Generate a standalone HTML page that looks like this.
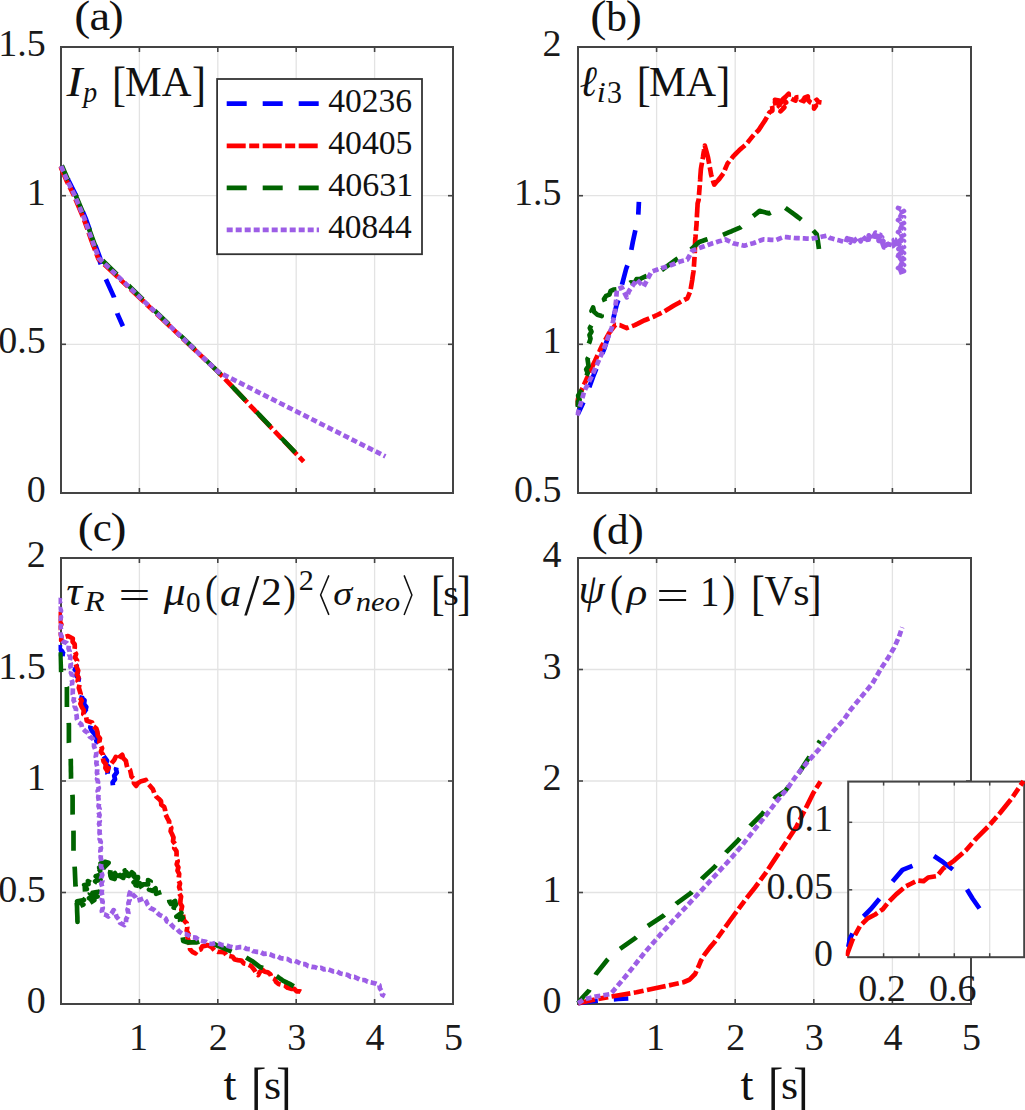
<!DOCTYPE html>
<html><head><meta charset="utf-8"><style>
html,body{margin:0;padding:0;background:#fff;}
svg{display:block;}
text{font-family:"Liberation Serif",serif;font-kerning:none;}
</style></head><body>
<svg width="1025" height="1110" viewBox="0 0 1025 1110">
<defs><clipPath id="clipa"><rect x="58.5" y="44.5" width="397" height="451"/></clipPath><clipPath id="clipb"><rect x="575.5" y="44.5" width="398" height="451"/></clipPath><clipPath id="clipc"><rect x="58.5" y="555.5" width="397" height="451"/></clipPath><clipPath id="clipd"><rect x="575.5" y="555.5" width="398" height="451"/></clipPath><clipPath id="clipi"><rect x="845.7" y="779.1" width="181.0" height="180.60000000000002"/></clipPath></defs>
<rect width="1025" height="1110" fill="#fff"/>
<line x1="139.4" y1="47" x2="139.4" y2="493" stroke="#e3e3e3" stroke-width="1.3"/>
<line x1="217.8" y1="47" x2="217.8" y2="493" stroke="#e3e3e3" stroke-width="1.3"/>
<line x1="296.2" y1="47" x2="296.2" y2="493" stroke="#e3e3e3" stroke-width="1.3"/>
<line x1="374.6" y1="47" x2="374.6" y2="493" stroke="#e3e3e3" stroke-width="1.3"/>
<line x1="61" y1="344.3" x2="453" y2="344.3" stroke="#e3e3e3" stroke-width="1.3"/>
<line x1="61" y1="195.7" x2="453" y2="195.7" stroke="#e3e3e3" stroke-width="1.3"/>
<line x1="656.6" y1="47" x2="656.6" y2="493" stroke="#e3e3e3" stroke-width="1.3"/>
<line x1="735.2" y1="47" x2="735.2" y2="493" stroke="#e3e3e3" stroke-width="1.3"/>
<line x1="813.8" y1="47" x2="813.8" y2="493" stroke="#e3e3e3" stroke-width="1.3"/>
<line x1="892.4" y1="47" x2="892.4" y2="493" stroke="#e3e3e3" stroke-width="1.3"/>
<line x1="578" y1="344.3" x2="971" y2="344.3" stroke="#e3e3e3" stroke-width="1.3"/>
<line x1="578" y1="195.7" x2="971" y2="195.7" stroke="#e3e3e3" stroke-width="1.3"/>
<line x1="139.4" y1="558" x2="139.4" y2="1004" stroke="#e3e3e3" stroke-width="1.3"/>
<line x1="217.8" y1="558" x2="217.8" y2="1004" stroke="#e3e3e3" stroke-width="1.3"/>
<line x1="296.2" y1="558" x2="296.2" y2="1004" stroke="#e3e3e3" stroke-width="1.3"/>
<line x1="374.6" y1="558" x2="374.6" y2="1004" stroke="#e3e3e3" stroke-width="1.3"/>
<line x1="61" y1="892.5" x2="453" y2="892.5" stroke="#e3e3e3" stroke-width="1.3"/>
<line x1="61" y1="781.0" x2="453" y2="781.0" stroke="#e3e3e3" stroke-width="1.3"/>
<line x1="61" y1="669.5" x2="453" y2="669.5" stroke="#e3e3e3" stroke-width="1.3"/>
<line x1="656.6" y1="558" x2="656.6" y2="1004" stroke="#e3e3e3" stroke-width="1.3"/>
<line x1="735.2" y1="558" x2="735.2" y2="1004" stroke="#e3e3e3" stroke-width="1.3"/>
<line x1="813.8" y1="558" x2="813.8" y2="1004" stroke="#e3e3e3" stroke-width="1.3"/>
<line x1="892.4" y1="558" x2="892.4" y2="1004" stroke="#e3e3e3" stroke-width="1.3"/>
<line x1="578" y1="892.5" x2="971" y2="892.5" stroke="#e3e3e3" stroke-width="1.3"/>
<line x1="578" y1="781.0" x2="971" y2="781.0" stroke="#e3e3e3" stroke-width="1.3"/>
<line x1="578" y1="669.5" x2="971" y2="669.5" stroke="#e3e3e3" stroke-width="1.3"/>
<line x1="61.0" y1="493" x2="61.0" y2="488" stroke="#444444" stroke-width="1.6"/>
<line x1="61.0" y1="47" x2="61.0" y2="52" stroke="#444444" stroke-width="1.6"/>
<line x1="139.4" y1="493" x2="139.4" y2="488" stroke="#444444" stroke-width="1.6"/>
<line x1="139.4" y1="47" x2="139.4" y2="52" stroke="#444444" stroke-width="1.6"/>
<line x1="217.8" y1="493" x2="217.8" y2="488" stroke="#444444" stroke-width="1.6"/>
<line x1="217.8" y1="47" x2="217.8" y2="52" stroke="#444444" stroke-width="1.6"/>
<line x1="296.2" y1="493" x2="296.2" y2="488" stroke="#444444" stroke-width="1.6"/>
<line x1="296.2" y1="47" x2="296.2" y2="52" stroke="#444444" stroke-width="1.6"/>
<line x1="374.6" y1="493" x2="374.6" y2="488" stroke="#444444" stroke-width="1.6"/>
<line x1="374.6" y1="47" x2="374.6" y2="52" stroke="#444444" stroke-width="1.6"/>
<line x1="453.0" y1="493" x2="453.0" y2="488" stroke="#444444" stroke-width="1.6"/>
<line x1="453.0" y1="47" x2="453.0" y2="52" stroke="#444444" stroke-width="1.6"/>
<line x1="61" y1="493.0" x2="66" y2="493.0" stroke="#444444" stroke-width="1.6"/>
<line x1="453" y1="493.0" x2="448" y2="493.0" stroke="#444444" stroke-width="1.6"/>
<line x1="61" y1="344.3" x2="66" y2="344.3" stroke="#444444" stroke-width="1.6"/>
<line x1="453" y1="344.3" x2="448" y2="344.3" stroke="#444444" stroke-width="1.6"/>
<line x1="61" y1="195.7" x2="66" y2="195.7" stroke="#444444" stroke-width="1.6"/>
<line x1="453" y1="195.7" x2="448" y2="195.7" stroke="#444444" stroke-width="1.6"/>
<line x1="61" y1="47.0" x2="66" y2="47.0" stroke="#444444" stroke-width="1.6"/>
<line x1="453" y1="47.0" x2="448" y2="47.0" stroke="#444444" stroke-width="1.6"/>
<rect x="61" y="47" width="392" height="446" fill="none" stroke="#444444" stroke-width="2"/>
<line x1="578.0" y1="493" x2="578.0" y2="488" stroke="#444444" stroke-width="1.6"/>
<line x1="578.0" y1="47" x2="578.0" y2="52" stroke="#444444" stroke-width="1.6"/>
<line x1="656.6" y1="493" x2="656.6" y2="488" stroke="#444444" stroke-width="1.6"/>
<line x1="656.6" y1="47" x2="656.6" y2="52" stroke="#444444" stroke-width="1.6"/>
<line x1="735.2" y1="493" x2="735.2" y2="488" stroke="#444444" stroke-width="1.6"/>
<line x1="735.2" y1="47" x2="735.2" y2="52" stroke="#444444" stroke-width="1.6"/>
<line x1="813.8" y1="493" x2="813.8" y2="488" stroke="#444444" stroke-width="1.6"/>
<line x1="813.8" y1="47" x2="813.8" y2="52" stroke="#444444" stroke-width="1.6"/>
<line x1="892.4" y1="493" x2="892.4" y2="488" stroke="#444444" stroke-width="1.6"/>
<line x1="892.4" y1="47" x2="892.4" y2="52" stroke="#444444" stroke-width="1.6"/>
<line x1="971.0" y1="493" x2="971.0" y2="488" stroke="#444444" stroke-width="1.6"/>
<line x1="971.0" y1="47" x2="971.0" y2="52" stroke="#444444" stroke-width="1.6"/>
<line x1="578" y1="493.0" x2="583" y2="493.0" stroke="#444444" stroke-width="1.6"/>
<line x1="971" y1="493.0" x2="966" y2="493.0" stroke="#444444" stroke-width="1.6"/>
<line x1="578" y1="344.3" x2="583" y2="344.3" stroke="#444444" stroke-width="1.6"/>
<line x1="971" y1="344.3" x2="966" y2="344.3" stroke="#444444" stroke-width="1.6"/>
<line x1="578" y1="195.7" x2="583" y2="195.7" stroke="#444444" stroke-width="1.6"/>
<line x1="971" y1="195.7" x2="966" y2="195.7" stroke="#444444" stroke-width="1.6"/>
<line x1="578" y1="47.0" x2="583" y2="47.0" stroke="#444444" stroke-width="1.6"/>
<line x1="971" y1="47.0" x2="966" y2="47.0" stroke="#444444" stroke-width="1.6"/>
<rect x="578" y="47" width="393" height="446" fill="none" stroke="#444444" stroke-width="2"/>
<line x1="61.0" y1="1004" x2="61.0" y2="999" stroke="#444444" stroke-width="1.6"/>
<line x1="61.0" y1="558" x2="61.0" y2="563" stroke="#444444" stroke-width="1.6"/>
<line x1="139.4" y1="1004" x2="139.4" y2="999" stroke="#444444" stroke-width="1.6"/>
<line x1="139.4" y1="558" x2="139.4" y2="563" stroke="#444444" stroke-width="1.6"/>
<line x1="217.8" y1="1004" x2="217.8" y2="999" stroke="#444444" stroke-width="1.6"/>
<line x1="217.8" y1="558" x2="217.8" y2="563" stroke="#444444" stroke-width="1.6"/>
<line x1="296.2" y1="1004" x2="296.2" y2="999" stroke="#444444" stroke-width="1.6"/>
<line x1="296.2" y1="558" x2="296.2" y2="563" stroke="#444444" stroke-width="1.6"/>
<line x1="374.6" y1="1004" x2="374.6" y2="999" stroke="#444444" stroke-width="1.6"/>
<line x1="374.6" y1="558" x2="374.6" y2="563" stroke="#444444" stroke-width="1.6"/>
<line x1="453.0" y1="1004" x2="453.0" y2="999" stroke="#444444" stroke-width="1.6"/>
<line x1="453.0" y1="558" x2="453.0" y2="563" stroke="#444444" stroke-width="1.6"/>
<line x1="61" y1="1004.0" x2="66" y2="1004.0" stroke="#444444" stroke-width="1.6"/>
<line x1="453" y1="1004.0" x2="448" y2="1004.0" stroke="#444444" stroke-width="1.6"/>
<line x1="61" y1="892.5" x2="66" y2="892.5" stroke="#444444" stroke-width="1.6"/>
<line x1="453" y1="892.5" x2="448" y2="892.5" stroke="#444444" stroke-width="1.6"/>
<line x1="61" y1="781.0" x2="66" y2="781.0" stroke="#444444" stroke-width="1.6"/>
<line x1="453" y1="781.0" x2="448" y2="781.0" stroke="#444444" stroke-width="1.6"/>
<line x1="61" y1="669.5" x2="66" y2="669.5" stroke="#444444" stroke-width="1.6"/>
<line x1="453" y1="669.5" x2="448" y2="669.5" stroke="#444444" stroke-width="1.6"/>
<line x1="61" y1="558.0" x2="66" y2="558.0" stroke="#444444" stroke-width="1.6"/>
<line x1="453" y1="558.0" x2="448" y2="558.0" stroke="#444444" stroke-width="1.6"/>
<rect x="61" y="558" width="392" height="446" fill="none" stroke="#444444" stroke-width="2"/>
<line x1="578.0" y1="1004" x2="578.0" y2="999" stroke="#444444" stroke-width="1.6"/>
<line x1="578.0" y1="558" x2="578.0" y2="563" stroke="#444444" stroke-width="1.6"/>
<line x1="656.6" y1="1004" x2="656.6" y2="999" stroke="#444444" stroke-width="1.6"/>
<line x1="656.6" y1="558" x2="656.6" y2="563" stroke="#444444" stroke-width="1.6"/>
<line x1="735.2" y1="1004" x2="735.2" y2="999" stroke="#444444" stroke-width="1.6"/>
<line x1="735.2" y1="558" x2="735.2" y2="563" stroke="#444444" stroke-width="1.6"/>
<line x1="813.8" y1="1004" x2="813.8" y2="999" stroke="#444444" stroke-width="1.6"/>
<line x1="813.8" y1="558" x2="813.8" y2="563" stroke="#444444" stroke-width="1.6"/>
<line x1="892.4" y1="1004" x2="892.4" y2="999" stroke="#444444" stroke-width="1.6"/>
<line x1="892.4" y1="558" x2="892.4" y2="563" stroke="#444444" stroke-width="1.6"/>
<line x1="971.0" y1="1004" x2="971.0" y2="999" stroke="#444444" stroke-width="1.6"/>
<line x1="971.0" y1="558" x2="971.0" y2="563" stroke="#444444" stroke-width="1.6"/>
<line x1="578" y1="1004.0" x2="583" y2="1004.0" stroke="#444444" stroke-width="1.6"/>
<line x1="971" y1="1004.0" x2="966" y2="1004.0" stroke="#444444" stroke-width="1.6"/>
<line x1="578" y1="892.5" x2="583" y2="892.5" stroke="#444444" stroke-width="1.6"/>
<line x1="971" y1="892.5" x2="966" y2="892.5" stroke="#444444" stroke-width="1.6"/>
<line x1="578" y1="781.0" x2="583" y2="781.0" stroke="#444444" stroke-width="1.6"/>
<line x1="971" y1="781.0" x2="966" y2="781.0" stroke="#444444" stroke-width="1.6"/>
<line x1="578" y1="669.5" x2="583" y2="669.5" stroke="#444444" stroke-width="1.6"/>
<line x1="971" y1="669.5" x2="966" y2="669.5" stroke="#444444" stroke-width="1.6"/>
<line x1="578" y1="558.0" x2="583" y2="558.0" stroke="#444444" stroke-width="1.6"/>
<line x1="971" y1="558.0" x2="966" y2="558.0" stroke="#444444" stroke-width="1.6"/>
<rect x="578" y="558" width="393" height="446" fill="none" stroke="#444444" stroke-width="2"/>
<polyline points="62.3,166.0 68.3,180.0 75.8,195.0 85.6,218.3 93.3,240.0 100.2,258.3 99.4,260.0 105.9,279.3 114.0,297.1 117.2,313.4 122.9,326.3" fill="none" stroke="#0000ff" stroke-width="4.7" stroke-dasharray="20 16" stroke-linejoin="round" stroke-dashoffset="21.89" clip-path="url(#clipa)"/>
<polyline points="60.4,166.4 66.4,180.4 73.9,195.4 83.7,218.7 91.4,240.4 98.3,258.7 218.2,371.9 303.7,461.7" fill="none" stroke="#ff0000" stroke-width="4.7" stroke-dasharray="19 3.5 10 3.5" stroke-linejoin="round" clip-path="url(#clipa)"/>
<polyline points="61.8,165.4 67.8,179.4 75.3,194.4 85.1,217.7 92.8,239.4 99.7,257.7 218.2,371.9 299.5,457.0" fill="none" stroke="#006400" stroke-width="4.7" stroke-dasharray="20 16" stroke-linejoin="round" stroke-dashoffset="4.15" clip-path="url(#clipa)"/>
<polyline points="61.0,166.0 67.0,180.0 74.5,195.0 84.3,218.3 92.0,240.0 98.9,258.3 218.2,371.9 385.4,456.4" fill="none" stroke="#9d5ee6" stroke-width="4.7" stroke-dasharray="6 3" stroke-linejoin="round" clip-path="url(#clipa)"/>
<polyline points="577.9,414.0 585.9,396.8 593.1,376.6 604.6,347.8 611.8,324.8 616.6,304.9 620.0,295.4 622.0,284.6 626.1,269.0 629.5,259.6 632.8,242.0 635.3,230.5 638.2,216.4 638.9,201.9" fill="none" stroke="#0000ff" stroke-width="4.7" stroke-dasharray="20 16" stroke-linejoin="round" stroke-dashoffset="6.93" clip-path="url(#clipb)"/>
<polyline points="575.0,405.4 576.0,403.0 577.1,400.6 578.1,398.2 579.2,395.8 580.2,393.4 581.3,391.0 582.3,388.6 583.4,386.2 584.4,383.8 585.6,381.2 586.8,378.5 588.0,375.9 589.2,373.3 590.4,370.6 591.6,368.0 592.7,365.6 593.8,363.2 595.0,360.8 596.1,358.4 597.2,356.0 598.3,353.6 599.5,351.2 600.6,348.8 601.7,346.4 603.1,343.8 604.6,341.2 606.0,338.6 607.5,336.0 608.9,333.4 610.5,331.2 612.1,329.1 613.8,326.9 615.4,324.8 619.9,325.1 622.2,326.1 624.5,327.1 626.8,328.1 629.5,327.1 632.1,326.1 634.8,325.1 637.3,323.9 639.8,322.6 642.2,321.4 644.7,320.2 647.2,319.2 649.7,318.2 652.1,317.2 654.6,316.2 657.1,315.0 659.5,313.8 662.0,312.5 664.5,311.3 667.0,309.8 669.5,308.3 671.9,306.8 674.4,305.3 676.7,304.0 679.1,302.7 681.4,301.4 684.3,299.9 687.3,298.4 688.3,296.1 689.3,293.7 690.3,291.4 690.8,288.4 691.3,285.5 691.8,282.6 692.3,279.6 692.6,277.1 693.0,274.6 693.4,272.1 693.7,269.6 693.9,266.6 694.1,263.7 694.3,260.7 694.5,257.8 694.7,254.8 694.8,251.8 694.9,248.8 695.0,245.9 695.1,242.9 695.2,239.9 695.5,236.9 695.7,233.9 696.0,231.0 696.2,228.0 696.5,225.0 696.6,222.3 696.8,219.6 696.9,216.9 697.0,214.2 697.2,211.5 697.3,208.8 697.5,206.1 697.6,203.4 698.6,200.0 698.8,197.4 699.0,194.9 699.2,192.3 699.4,189.7 699.6,187.2 699.8,184.6 700.0,182.0 700.2,179.4 700.3,176.8 700.5,174.2 700.7,171.6 700.9,169.0 701.4,165.9 702.0,162.8 702.5,159.7 703.0,156.9 703.4,154.1 703.9,151.2 704.3,148.4 704.8,145.6 705.6,148.5 706.4,151.4 707.2,154.4 708.0,157.3 708.5,160.2 709.0,163.0 709.5,165.9 710.1,168.8 710.6,171.6 711.1,174.5 711.9,177.0 712.7,179.6 713.4,182.1 714.2,184.6 716.0,182.5 717.9,180.5 719.7,178.4 721.7,175.7 723.6,172.9 724.6,170.6 725.5,168.2 726.5,165.9 727.5,163.6 729.6,161.0 731.6,158.4 733.7,155.8 735.5,154.0 737.4,152.1 739.2,150.3 741.5,148.2 743.9,146.2 746.2,144.1 748.2,141.8 750.1,139.4 752.0,137.0 754.0,134.7 756.4,132.3 758.7,130.0 760.4,127.4 762.1,124.8 763.8,122.2 765.5,119.6 766.9,117.1 768.2,114.7 769.6,112.2 772.4,110.6 772.3,107.3 771.3,104.1 776.0,103.0 775.0,99.8 779.1,100.5 780.7,103.1 778.8,106.1 781.7,108.5 780.5,111.4 782.5,109.4 784.4,107.3 781.5,104.0 786.2,102.5 782.9,99.1 785.3,97.1 788.7,93.7 788.8,97.4 792.1,99.1 795.5,100.5 796.3,97.3 799.6,97.1 800.8,100.0 803.7,101.2 804.5,97.7 807.8,96.4 808.0,100.0 810.5,102.5 814.3,104.4 814.0,108.7 815.9,106.0 813.7,102.1 816.7,99.8 818.6,102.1 821.5,102.5" fill="none" stroke="#ff0000" stroke-width="4.7" stroke-dasharray="19 3.5 10 3.5" stroke-linejoin="round" clip-path="url(#clipb)"/>
<polyline points="576.0,410.0 577.6,406.7 576.5,402.7 579.6,399.8 578.0,395.7 580.1,392.5 582.0,389.6 581.7,385.9 584.3,383.2 584.0,379.5 585.9,376.6 587.7,373.2 586.2,369.3 588.5,366.0 588.0,362.2 587.5,358.8 589.4,355.5 587.8,352.0 590.4,348.8 588.1,345.3 589.5,342.0 590.5,338.6 589.5,335.0 591.5,331.8 589.8,328.1 591.6,324.8 593.2,321.5 590.9,317.8 593.8,314.5 591.5,310.9 593.1,307.5 594.0,311.8 597.4,314.7 601.7,316.1 601.1,312.5 603.9,309.5 602.5,305.7 605.6,302.8 604.0,299.0 606.0,295.9 609.4,294.6 610.7,290.9 614.0,289.5 617.8,289.1 620.6,286.1 624.7,286.6 627.8,284.5 630.6,282.4 634.6,282.9 636.6,279.1 640.3,278.8 643.4,277.4 646.5,276.0 649.6,274.6 652.9,273.6 656.3,272.6 659.6,271.6 662.1,269.8 664.7,267.9 667.2,266.1 669.8,264.2 672.3,262.4 674.9,260.5 677.4,258.7 680.4,257.1 683.3,255.4 686.3,253.8 688.9,251.4 691.5,249.0 694.0,246.7 696.6,244.3 699.2,241.9 702.8,240.8 706.4,239.6 710.0,238.5 713.2,237.6 716.4,236.8 719.6,235.9 722.8,235.0 725.8,233.7 728.7,232.4 731.7,231.2 734.7,229.9 737.6,228.6 740.6,227.3 743.0,225.2 745.4,223.0 747.8,220.9 750.2,218.7 752.6,216.6 754.9,214.7 757.3,212.8 759.6,210.9 762.8,211.7 765.9,212.6 769.1,213.4 772.5,211.7 776.0,210.0 780.1,208.5 784.3,207.0 786.7,208.8 789.2,210.6 791.6,212.4 794.0,214.2 796.5,216.0 798.9,217.8 801.8,220.2 804.6,222.6 807.4,224.9 810.3,227.3 812.4,229.6 814.6,232.0 816.7,234.3 817.4,238.2 818.0,242.0 818.6,246.4 819.2,250.8 820.0,253.8 820.9,256.7 821.7,259.7" fill="none" stroke="#006400" stroke-width="4.7" stroke-dasharray="20 16" stroke-linejoin="round" stroke-dashoffset="32.58" clip-path="url(#clipb)"/>
<polyline points="577.2,415.5 577.9,413.3 578.5,411.0 579.2,408.8 579.8,406.6 580.5,404.4 581.1,402.1 581.8,399.9 582.4,397.7 583.1,395.5 583.7,393.2 584.4,391.0 585.4,388.9 586.5,386.9 587.5,384.8 588.5,382.8 589.5,380.7 590.6,378.7 591.6,376.6 592.6,374.4 593.5,372.3 594.5,370.1 595.4,368.0 596.4,365.8 597.4,363.6 598.3,361.5 599.3,359.3 600.2,357.2 601.2,355.0 602.1,352.9 603.1,350.7 603.9,348.6 604.7,346.5 605.5,344.4 606.3,342.3 607.1,340.2 607.8,338.1 608.6,336.0 609.4,333.9 610.2,331.8 611.0,329.7 611.8,327.6 612.3,325.2 612.8,322.8 613.2,320.4 613.7,318.0 614.2,315.6 614.7,313.2 615.0,310.8 615.2,308.5 615.5,306.1 615.7,303.8 616.0,301.4 616.2,299.0 616.4,296.6 616.5,294.3 616.7,291.9 616.9,289.5 619.4,288.5 621.9,287.5 622.9,289.5 623.9,291.5 624.8,293.4 625.8,295.4 626.8,297.4 627.8,294.4 628.8,291.4 630.1,289.4 631.5,287.5 632.8,285.5 634.1,283.5 635.5,281.6 636.8,279.6 638.5,281.3 640.2,283.1 642.0,284.8 643.7,286.5 644.8,284.4 646.0,282.2 647.1,280.1 648.2,278.0 649.3,275.9 650.5,273.7 651.6,271.6 654.3,270.6 656.9,269.7 659.6,268.7 662.1,267.9 664.5,267.2 667.0,266.4 669.5,265.7 672.0,264.7 674.5,263.7 676.9,262.7 679.4,261.7 682.0,261.0 684.7,260.4 687.3,259.7 688.5,257.5 689.8,255.2 691.0,253.0 692.3,250.8 694.9,249.8 697.4,248.8 700.0,247.8 702.1,247.0 704.2,246.3 706.4,245.5 708.5,244.7 710.6,244.0 712.7,243.2 714.8,242.6 716.9,241.9 719.0,241.3 721.2,240.7 723.3,240.0 725.4,239.4 727.9,240.7 730.5,241.9 733.0,243.2 735.3,243.7 737.6,244.2 739.8,244.7 742.1,245.2 744.4,245.7 746.6,245.1 748.8,244.4 751.1,243.8 753.3,243.2 755.8,242.2 758.3,241.3 760.9,240.3 763.4,239.4 765.9,239.5 768.5,239.6 771.0,239.8 773.6,239.9 776.1,240.0 778.6,239.0 781.2,237.9 783.7,236.9 786.2,237.1 788.8,237.4 791.3,237.6 793.9,237.9 796.4,238.1 798.9,238.2 801.5,238.3 804.0,238.4 806.5,238.6 809.1,238.7 811.6,238.8 813.8,238.3 815.9,237.9 818.1,237.4 820.3,237.0 822.5,236.5 824.6,236.1 826.8,235.6 830.0,238.0 832.2,238.6 834.4,239.2 836.6,239.8 838.8,240.3 841.0,240.9 843.2,241.5 845.7,242.4 847.1,238.2 850.2,242.5 851.4,236.9 854.4,241.0 856.3,238.9 858.5,237.2 860.7,241.4 862.9,236.5 865.1,238.9 867.8,239.9 868.8,235.3 872.2,238.8 873.9,236.3 875.4,232.6 879.2,233.6 878.6,236.2 882.1,237.3 878.6,240.8 883.8,241.5 882.7,244.2 883.9,247.3 887.1,247.7 887.9,244.1 891.5,245.0 895.0,244.5 893.8,240.0 896.7,238.9 898.0,241.0 902.5,246.0 898.5,249.0 902.5,252.0 898.5,255.0 902.5,258.0 898.5,261.0 902.5,264.0 898.5,267.0 902.5,270.0 898.5,273.0 904.0,271.0 898.0,268.0 904.0,265.0 898.0,262.0 904.0,259.0 898.0,256.0 904.0,253.0 898.0,250.0 904.0,247.0 898.0,244.0 904.0,241.0 898.0,238.0 904.0,235.0 898.0,232.0 904.0,229.0 898.0,226.0 904.0,223.0 898.0,220.0 904.0,217.0 898.0,214.0 904.0,211.0 898.0,208.0 901.0,209.0" fill="none" stroke="#9d5ee6" stroke-width="4.7" stroke-dasharray="6 3" stroke-linejoin="round" clip-path="url(#clipb)"/>
<polyline points="866.0,240.0 868.7,239.7 869.2,236.2 872.0,236.0 875.2,236.8 877.0,234.0 880.4,234.7 878.5,238.8 881.0,240.0 883.5,241.2 882.3,244.9 885.0,246.0 888.0,244.0 890.0,247.0 893.0,246.0 894.0,243.0 893.7,239.7 897.0,240.0" fill="none" stroke="#9d5ee6" stroke-width="4.7" stroke-dasharray="6 3" stroke-linejoin="round" clip-path="url(#clipb)"/>
<polyline points="60.0,645.0 59.6,648.4 61.9,651.5 61.0,655.0 62.0,651.0 63.5,654.0 67.3,654.5 68.9,657.4 71.3,660.9 74.8,663.3 76.8,666.1 74.8,669.7 77.8,672.3 76.4,675.8 78.9,678.5 78.2,681.9 80.4,684.6 79.0,688.2 80.8,691.0 82.4,694.0 81.5,697.8 84.5,700.4 84.0,704.1 86.3,706.9 85.3,710.8 88.9,713.2 88.7,716.8 88.1,720.6 91.3,723.5 90.3,727.4 91.7,730.7 94.6,733.9 96.0,738.0 96.5,741.3 99.5,743.4 99.1,747.2 101.8,749.4 103.7,751.9 103.2,755.4 105.0,758.0 107.0,760.7 105.8,764.2 108.6,766.7 108.0,770.0 107.5,773.4 110.1,776.3 108.6,779.9 110.0,783.0 113.0,786.0 112.6,782.4 115.0,779.3 114.2,775.7 116.8,772.6 116.0,769.0 117.0,765.9 120.4,764.4 121.0,761.0" fill="none" stroke="#0000ff" stroke-width="4.7" stroke-dasharray="20 16" stroke-linejoin="round" clip-path="url(#clipc)"/>
<polyline points="60.0,612.0 59.1,615.1 60.7,618.2 59.9,621.3 61.4,624.4 60.0,627.6 61.1,630.6 60.0,633.8 61.5,636.9 61.0,640.0 62.9,637.5 68.0,636.0 72.8,638.5 72.6,641.7 74.7,644.3 74.8,647.4 74.2,650.8 76.1,654.0 75.0,657.4 77.1,660.6 75.7,664.1 76.8,667.3 78.2,670.6 76.8,674.2 78.5,677.4 77.6,681.0 79.7,684.1 78.8,687.7 79.8,691.0 80.7,694.1 79.7,697.5 81.7,700.5 80.4,703.9 81.8,707.0 83.8,710.2 83.3,714.2 86.2,717.1 86.7,720.8 92.1,722.5 93.2,726.1 96.4,728.6 97.5,732.2 97.8,735.6 100.0,738.4 99.3,742.0 100.7,745.1 102.1,748.2 100.8,751.7 103.1,754.6 102.9,758.0 103.5,761.4 105.9,764.1 105.4,767.9 107.2,770.8 108.9,766.8 111.5,763.3 114.0,760.3 115.8,756.9 117.9,760.1 119.5,757.0 122.2,754.7 123.2,758.1 125.9,760.8 126.5,764.4 127.3,767.6 130.0,769.8 130.8,773.0 131.5,776.5 134.2,779.1 133.9,783.0 136.1,785.9 137.8,783.3 140.4,781.6 145.8,780.0 147.4,783.3 150.1,785.9 152.9,789.3 154.4,793.4 156.1,796.4 158.7,798.7 161.0,801.2 161.3,804.7 164.1,806.8 165.1,810.0 165.6,814.5 167.6,818.6 169.2,821.5 169.0,825.0 171.3,827.7 170.6,831.3 172.1,834.3 173.5,837.5 173.0,841.2 175.3,844.2 174.2,848.0 176.5,851.1 176.6,854.6 176.3,857.9 177.7,861.0 176.7,864.3 178.4,867.4 177.5,870.7 179.2,873.8 178.9,877.1 178.5,880.4 180.0,883.6 179.1,887.0 180.2,890.2 179.3,893.5 181.1,896.7 180.5,900.0 180.3,903.4 182.1,906.5 181.3,910.0 183.1,913.0 183.2,916.4 184.0,920.3 186.8,923.4 187.3,927.3 186.7,930.8 188.7,934.1 187.4,937.7 188.7,941.0 190.0,945.0 190.0,949.2 192.3,951.8 195.5,953.3 197.2,950.5 200.7,949.4 202.3,946.4 207.8,945.1 211.7,947.1 214.6,950.5 217.9,951.9 221.4,951.9 224.5,952.5 226.5,955.3 229.6,956.0 232.6,956.8 234.7,959.5 237.8,960.1 241.4,960.6 243.9,963.5 247.4,964.2 251.4,966.2 254.2,969.7 255.9,972.6 258.3,975.1 259.8,972.0 262.4,969.7 264.8,971.8 267.9,972.4 270.4,974.4 271.6,977.5 274.7,979.1 276.1,982.0 278.5,983.9 281.5,984.7 284.9,985.6 287.7,987.8 291.1,988.8 294.3,988.9 296.7,991.4 300.0,991.4 302.7,992.9" fill="none" stroke="#ff0000" stroke-width="4.7" stroke-dasharray="19 3.5 10 3.5" stroke-linejoin="round" clip-path="url(#clipc)"/>
<polyline points="60.0,645.4 60.1,647.7 60.2,650.0 60.2,652.3 60.3,654.6 60.4,656.9 60.5,659.2 60.6,661.5 60.7,663.8 60.8,666.1 60.8,668.4 60.9,670.7 61.0,673.0 62.0,675.3 63.0,677.7 64.0,680.0 64.9,682.3 65.9,684.7 66.9,687.0 66.9,689.2 66.9,691.4 66.9,693.7 66.9,695.9 66.9,698.1 66.9,700.3 66.9,702.6 66.9,704.8 66.9,707.0 67.2,709.2 67.4,711.5 67.7,713.7 67.9,715.9 68.2,718.1 68.4,720.3 68.7,722.6 68.9,724.8 68.9,727.0 68.9,729.2 68.9,731.5 68.9,733.7 68.9,735.9 68.9,738.1 68.9,740.4 68.9,742.6 69.2,745.1 69.4,747.6 69.7,750.1 70.0,752.5 70.3,755.0 70.5,757.5 70.8,760.0 70.8,762.2 70.8,764.5 70.9,766.8 70.9,769.0 70.9,771.2 71.0,773.5 71.0,775.8 71.0,778.0 71.2,780.4 71.4,782.8 71.6,785.1 71.8,787.5 72.0,789.9 72.2,792.2 72.4,794.6 72.6,797.0 72.6,799.4 72.6,801.9 72.6,804.3 72.6,806.7 72.6,809.1 72.6,811.6 72.6,814.0 72.7,816.2 72.8,818.5 72.9,820.8 73.0,823.0 73.2,825.2 73.3,827.5 73.4,829.8 73.5,832.0 73.5,834.4 73.5,836.8 73.5,839.1 73.5,841.5 73.5,843.9 73.5,846.2 73.5,848.6 73.5,851.0 73.7,853.2 73.8,855.5 74.0,857.8 74.2,860.0 74.3,862.2 74.5,864.5 74.6,866.8 74.8,869.0 74.9,871.4 75.0,873.9 75.1,876.3 75.2,878.7 75.3,881.1 75.4,883.6 75.5,886.0 75.7,888.2 75.8,890.4 76.0,892.7 76.2,894.9 76.3,897.1 76.5,899.3 76.7,901.6 76.8,903.8 77.0,906.0 77.1,908.3 77.1,910.6 77.2,912.9 77.3,915.1 77.4,917.4 77.4,919.7 77.5,922.0 77.8,919.8 78.2,917.5 78.5,915.2 78.8,913.0 79.1,910.8 79.5,908.5 79.8,906.2 83.4,904.5 77.1,901.3 84.0,900.0 79.5,897.0 81.4,895.0 84.9,893.8 81.5,889.4 86.9,889.1 84.2,885.0 88.5,884.2 87.9,881.1 90.9,882.8 87.7,886.5 92.5,887.6 91.1,890.8 89.9,893.3 93.2,895.4 89.0,898.2 94.4,900.0 90.0,902.9 92.7,905.0 90.3,902.1 95.8,900.8 92.6,897.8 97.6,896.4 92.5,892.9 98.3,891.7 93.4,888.3 96.5,886.5 100.3,884.5 95.1,881.2 100.5,879.4 95.7,876.2 100.8,874.4 98.6,871.5 97.6,868.0 102.9,868.8 101.1,864.8 105.7,865.1 105.0,861.8 108.6,862.8 104.4,867.1 109.9,867.3 106.1,871.5 111.1,871.9 110.4,874.7 111.3,878.1 114.7,879.0 113.9,875.7 119.7,875.4 116.3,871.0 119.0,869.3 118.6,872.2 122.6,872.9 120.9,876.4 123.3,877.9 123.0,874.9 128.1,875.7 124.8,870.4 128.7,870.4 128.8,873.5 133.4,872.1 132.1,876.6 135.1,876.8 137.8,878.5 133.6,882.4 139.7,883.1 136.1,886.7 140.2,888.0 139.4,890.8 143.4,890.3 139.9,884.9 143.7,884.3 148.1,884.4 148.0,880.0 150.6,881.5 147.4,885.3 153.7,885.2 149.0,889.6 152.3,890.8 155.5,888.3 156.0,893.9 158.7,892.9 162.8,891.5 162.1,897.0 165.1,897.2 168.9,897.7 169.4,901.5 170.9,903.9 175.1,900.9 175.9,904.7 173.7,907.7 180.4,908.4 174.7,912.3 181.5,912.9 176.4,916.7 182.8,917.4 180.0,920.6 180.6,922.8 181.2,925.1 181.5,927.4 181.8,929.6 182.1,931.9 182.3,934.2 182.6,936.5 182.9,938.7 183.2,941.0 187.3,942.3 189.7,942.3 192.1,942.3 194.5,942.3 196.9,942.3 199.3,941.4 201.7,940.6 204.0,939.8 206.4,938.9 208.3,940.1 210.2,941.4 212.2,942.6 214.1,943.9 216.0,945.1 218.3,946.0 220.5,946.9 222.8,947.8 225.2,948.8 227.6,949.8 230.0,950.9 232.4,951.9 235.1,952.2 237.8,952.6 240.0,953.9 242.1,955.1 244.3,956.4 246.4,957.7 248.6,959.0 250.7,960.2 252.9,961.5 255.2,963.3 257.4,965.1 259.7,966.9 262.4,967.8 265.2,968.8 267.9,969.7 269.8,971.1 271.6,972.4 273.5,973.8 275.4,975.2 277.3,976.5 279.1,977.9 281.0,979.2 282.9,980.6 284.9,981.6 287.0,982.7 289.1,983.7 291.1,984.7 293.4,986.1 295.6,987.4 297.9,988.8" fill="none" stroke="#006400" stroke-width="4.7" stroke-dasharray="20 16" stroke-linejoin="round" stroke-dashoffset="29.19" clip-path="url(#clipc)"/>
<polyline points="98.0,872.0 100.3,870.9 99.1,867.5 103.1,867.6 100.5,863.2 104.0,863.0 103.4,866.1 108.5,865.7 106.4,869.7 110.6,869.9 110.0,873.0 110.8,876.4 115.0,873.1 116.0,876.0 119.9,875.9 117.2,870.2 121.0,870.0 122.2,872.7 125.5,870.9 127.0,873.0 129.0,875.9 131.9,872.3 134.0,874.0 133.7,876.5 138.0,877.0 134.0,881.0 139.8,881.0 135.5,885.1 139.0,886.0" fill="none" stroke="#006400" stroke-width="4.7" stroke-dasharray="20 16" stroke-linejoin="round" clip-path="url(#clipc)"/>
<polyline points="60.0,597.9 59.5,601.1 60.8,604.3 59.9,607.5 61.0,610.7 60.0,613.9 61.0,617.1 60.2,620.3 61.2,623.5 60.3,626.7 61.3,629.9 60.3,633.1 61.5,636.3 61.0,639.5 63.4,641.8 66.7,642.9 68.9,645.4 68.5,648.5 69.7,651.5 69.2,654.6 70.6,657.5 69.6,660.7 70.9,663.6 70.3,666.7 71.7,669.7 70.9,672.8 72.1,675.7 71.1,678.9 72.4,681.9 71.9,685.0 72.9,687.9 72.8,691.0 72.7,694.2 74.1,697.1 73.5,700.4 75.2,703.3 74.6,706.5 76.1,709.4 75.6,712.7 76.7,715.7 76.8,718.8 78.3,722.1 81.3,724.4 82.2,728.1 84.7,730.7 87.9,732.9 89.6,736.5 92.7,738.7 94.0,742.4 94.0,746.4 95.5,750.0 96.4,753.3 95.7,756.7 96.8,760.0 96.3,763.4 97.3,766.6 97.2,770.0 96.9,773.0 98.1,776.0 97.0,779.0 98.1,782.0 97.5,785.0 98.8,788.0 97.6,791.0 98.9,794.0 98.2,797.0 98.7,800.0 99.3,803.0 98.5,806.0 99.6,809.0 98.5,812.0 99.6,815.0 98.7,818.0 99.8,821.0 99.0,824.0 100.2,827.0 99.7,830.0 99.5,833.0 100.4,836.0 99.6,839.0 100.8,842.0 99.8,845.0 101.0,848.0 100.3,851.0 101.2,854.0 100.6,857.0 101.2,860.0 101.7,863.0 100.9,866.0 102.0,869.0 101.2,872.0 102.3,875.0 101.1,878.0 102.4,881.0 101.3,884.0 102.4,887.0 102.0,890.0 101.6,893.0 102.6,896.0 101.8,899.0 102.7,902.0 101.9,905.0 102.8,908.0 101.8,911.0 102.5,914.0 105.6,914.7 108.3,916.5 111.4,913.7 113.6,910.1 115.5,913.2 116.5,916.7 118.9,919.5 120.1,923.0 124.4,925.1 126.0,922.4 126.1,919.2 127.6,916.5 128.4,913.2 127.5,909.7 128.9,906.4 128.4,903.0 129.7,899.7 129.0,896.2 129.7,892.9 130.8,890.8 132.4,894.3 135.4,897.0 137.2,900.4 140.5,899.6 143.7,898.3 146.2,901.3 147.7,904.9 150.1,908.0 153.7,909.6 156.6,912.2 159.4,914.9 163.0,916.5 165.5,918.3 166.8,921.3 169.7,922.7 171.6,925.1 174.0,927.6 177.2,929.1 179.4,931.8 182.3,933.7 185.7,934.0 188.7,935.5 192.0,937.2 195.8,937.6 198.7,940.1 202.3,941.0 205.9,941.8 209.1,943.7 212.3,944.0 215.5,943.0 218.7,943.7 222.2,945.2 226.0,945.2 229.6,946.4 233.0,947.4 236.5,947.8 239.9,947.1 243.3,947.1 246.6,948.8 250.3,949.2 253.4,951.3 257.0,951.9 260.5,952.1 263.7,953.8 267.3,953.5 270.6,954.6 273.9,956.2 277.6,956.2 280.7,958.2 284.3,958.7 287.8,959.1 290.9,961.1 294.7,960.7 297.9,962.2 301.1,964.0 304.9,964.1 308.1,966.1 311.6,966.9 314.8,967.1 317.7,968.3 321.0,967.8 323.9,969.4 327.2,968.9 330.2,970.1 333.5,971.5 337.2,971.6 340.4,973.5 343.9,974.2 347.4,974.8 350.5,976.8 354.3,976.8 357.5,978.3 360.7,980.0 364.5,980.0 367.7,981.8 371.2,982.4 375.4,983.5 379.4,985.2 379.9,988.5 381.9,991.3 382.1,994.7 384.9,996.1" fill="none" stroke="#9d5ee6" stroke-width="4.7" stroke-dasharray="6 3" stroke-linejoin="round" clip-path="url(#clipc)"/>
<polyline points="578.0,1003.3 590.0,1001.5 605.0,1000.0 618.0,999.0 628.3,998.5" fill="none" stroke="#0000ff" stroke-width="4.7" stroke-dasharray="20 16" stroke-linejoin="round" clip-path="url(#clipd)"/>
<polyline points="578.0,1003.3 595.0,999.5 610.1,996.7 636.5,992.3 662.3,986.8 672.9,984.5 683.4,982.2 689.3,979.8 695.1,974.0 698.6,966.3 701.0,960.5 704.5,954.6 709.8,947.6 714.4,942.3 730.0,920.5 745.5,899.5 755.0,887.5 765.4,873.4 775.7,857.9 786.1,842.3 796.4,826.8 806.8,806.1 813.0,793.6 820.5,781.5" fill="none" stroke="#ff0000" stroke-width="4.7" stroke-dasharray="19 3.5 10 3.5" stroke-linejoin="round" stroke-dashoffset="1.73" clip-path="url(#clipd)"/>
<polyline points="578.0,1003.3 583.0,997.0 589.0,990.6 593.0,981.0 596.1,973.9 606.6,960.7 613.0,954.0 620.7,948.4 635.6,937.9 647.8,926.0 663.4,915.8 676.7,903.3 690.7,893.2 702.4,878.3 714.9,866.6 726.6,851.8 738.3,840.1 750.8,825.3 762.5,813.6 775.8,797.2 785.2,790.9 797.0,776.0 808.0,759.0 820.0,740.8" fill="none" stroke="#006400" stroke-width="4.7" stroke-dasharray="20 16" stroke-linejoin="round" stroke-dashoffset="2.09" clip-path="url(#clipd)"/>
<polyline points="578.0,1003.3 583.8,999.4 597.0,996.3 610.1,994.1 612.8,991.5 627.7,973.9 645.2,951.9 662.8,931.8 702.4,889.3 731.3,858.1 742.0,845.5 753.3,831.0 764.7,817.1 775.4,803.0 787.3,788.6 797.3,774.3 808.9,760.4 820.9,747.1 832.0,732.6 843.6,720.0 850.8,709.5 861.6,696.5 872.4,683.5 881.1,668.4 887.6,658.6 894.1,647.8 898.9,637.0 902.2,627.3" fill="none" stroke="#9d5ee6" stroke-width="4.7" stroke-dasharray="6 3" stroke-linejoin="round" clip-path="url(#clipd)"/>
<text transform="translate(66.53 95.90) scale(1.1200 1)" font-size="42.76" style="font-style:italic;" fill="#111111" >I</text>
<text transform="translate(83.13 101.73) scale(0.9761 1)" font-size="28.51" style="font-style:italic;" fill="#111111" >p</text>
<text transform="translate(112.11 99.79) scale(0.8500 1)" font-size="49.42" style="" fill="#111111" >[</text>
<text transform="translate(125.01 95.90) scale(0.9714 1)" font-size="42.41" style="" fill="#111111" >MA</text>
<text transform="translate(191.91 99.79) scale(0.8500 1)" font-size="49.42" style="" fill="#111111" >]</text>
<text transform="translate(579.54 96.18) scale(0.9664 1)" font-size="43.39" style="font-style:italic;" fill="#111111" >ℓ</text>
<text transform="translate(596.75 102.00) scale(1.1200 1)" font-size="28.85" style="font-style:italic;" fill="#111111" >i</text>
<text transform="translate(607.06 103.09) scale(0.9604 1)" font-size="31.26" style="" fill="#111111" >3</text>
<text transform="translate(636.81 99.79) scale(0.8500 1)" font-size="49.42" style="" fill="#111111" >[</text>
<text transform="translate(649.00 95.90) scale(0.9819 1)" font-size="42.41" style="" fill="#111111" >MA</text>
<text transform="translate(716.16 99.79) scale(0.8500 1)" font-size="49.42" style="" fill="#111111" >]</text>
<text transform="translate(66.34 605.21) scale(1.1200 1)" font-size="39.47" style="font-style:italic;" fill="#111111" >τ</text>
<text transform="translate(84.53 611.30) scale(1.1200 1)" font-size="29.48" style="font-style:italic;" fill="#111111" >R</text>
<text transform="translate(118.49 607.93) scale(1.4567 1)" font-size="38.80" style="" fill="#111111" >=</text>
<text transform="translate(163.74 605.38) scale(1.1010 1)" font-size="39.83" style="font-style:italic;" fill="#111111" >μ</text>
<text transform="translate(185.89 611.81) scale(0.9743 1)" font-size="29.79" style="" fill="#111111" >0</text>
<text transform="translate(204.94 606.10) scale(0.8500 1)" font-size="45.11" style="" fill="#111111" >(</text>
<text transform="translate(219.93 605.60) scale(1.0882 1)" font-size="39.30" style="font-style:italic;" fill="#111111" >a</text>
<text transform="translate(244.30 614.61) scale(0.9104 1)" font-size="60.09" style="" fill="#111111" >/</text>
<text transform="translate(261.20 604.70) scale(1.0070 1)" font-size="40.63" style="" fill="#111111" >2</text>
<text transform="translate(283.29 605.67) scale(0.8500 1)" font-size="44.78" style="" fill="#111111" >)</text>
<text transform="translate(298.77 590.20) scale(1.0249 1)" font-size="29.45" style="" fill="#111111" >2</text>
<polyline points="328.9,575.4 320.6,594.9 328.9,614.9" fill="none" stroke="#111111" stroke-width="1.5"/>
<text transform="translate(333.36 605.27) scale(1.1200 1)" font-size="34.26" style="font-style:italic;" fill="#111111" >σ</text>
<text transform="translate(355.67 610.73) scale(1.1200 1)" font-size="27.45" style="font-style:italic;" fill="#111111" >neo</text>
<polyline points="404.1,575.4 411.9,594.9 404.1,614.9" fill="none" stroke="#111111" stroke-width="1.5"/>
<text transform="translate(430.98 608.53) scale(0.8500 1)" font-size="48.33" style="" fill="#111111" >[</text>
<text transform="translate(443.36 605.15) scale(1.1200 1)" font-size="35.76" style="" fill="#111111" >s</text>
<text transform="translate(457.14 608.53) scale(0.8500 1)" font-size="48.33" style="" fill="#111111" >]</text>
<text transform="translate(578.60 602.93) scale(0.9754 1)" font-size="43.10" style="font-style:italic;" fill="#111111" >ψ</text>
<text transform="translate(609.91 606.11) scale(0.8738 1)" font-size="44.11" style="" fill="#111111" >(</text>
<text transform="translate(626.68 604.63) scale(1.0999 1)" font-size="38.85" style="font-style:italic;" fill="#111111" >ρ</text>
<text transform="translate(656.21 608.91) scale(1.3948 1)" font-size="41.60" style="" fill="#111111" >=</text>
<text transform="translate(700.08 605.70) scale(0.9376 1)" font-size="41.51" style="" fill="#111111" >1</text>
<text transform="translate(722.15 606.07) scale(0.8696 1)" font-size="44.78" style="" fill="#111111" >)</text>
<text transform="translate(750.95 608.67) scale(0.8500 1)" font-size="48.81" style="" fill="#111111" >[</text>
<text transform="translate(764.56 604.95) scale(0.9273 1)" font-size="42.69" style="" fill="#111111" >V</text>
<text transform="translate(793.18 605.22) scale(1.0915 1)" font-size="38.46" style="" fill="#111111" >s</text>
<text transform="translate(807.63 608.67) scale(0.8500 1)" font-size="48.81" style="" fill="#111111" >]</text>
<text x="45.8" y="502.0" font-size="38" text-anchor="end" fill="#1a1a1a">0</text>
<text x="45.8" y="353.3" font-size="38" text-anchor="end" fill="#1a1a1a">0.5</text>
<text x="45.8" y="204.7" font-size="38" text-anchor="end" fill="#1a1a1a">1</text>
<text x="45.8" y="56.0" font-size="38" text-anchor="end" fill="#1a1a1a">1.5</text>
<text x="561.5" y="502.0" font-size="38" text-anchor="end" fill="#1a1a1a">0.5</text>
<text x="561.5" y="353.3" font-size="38" text-anchor="end" fill="#1a1a1a">1</text>
<text x="561.5" y="204.7" font-size="38" text-anchor="end" fill="#1a1a1a">1.5</text>
<text x="561.5" y="56.0" font-size="38" text-anchor="end" fill="#1a1a1a">2</text>
<text x="45.8" y="1013.0" font-size="38" text-anchor="end" fill="#1a1a1a">0</text>
<text x="45.8" y="901.5" font-size="38" text-anchor="end" fill="#1a1a1a">0.5</text>
<text x="45.8" y="790.0" font-size="38" text-anchor="end" fill="#1a1a1a">1</text>
<text x="45.8" y="678.5" font-size="38" text-anchor="end" fill="#1a1a1a">1.5</text>
<text x="45.8" y="567.0" font-size="38" text-anchor="end" fill="#1a1a1a">2</text>
<text x="561.5" y="1013.0" font-size="38" text-anchor="end" fill="#1a1a1a">0</text>
<text x="561.5" y="901.5" font-size="38" text-anchor="end" fill="#1a1a1a">1</text>
<text x="561.5" y="790.0" font-size="38" text-anchor="end" fill="#1a1a1a">2</text>
<text x="561.5" y="678.5" font-size="38" text-anchor="end" fill="#1a1a1a">3</text>
<text x="561.5" y="567.0" font-size="38" text-anchor="end" fill="#1a1a1a">4</text>
<text x="138.4" y="1049.5" font-size="38" text-anchor="middle" fill="#1a1a1a">1</text>
<text x="218.3" y="1049.5" font-size="38" text-anchor="middle" fill="#1a1a1a">2</text>
<text x="296.7" y="1049.5" font-size="38" text-anchor="middle" fill="#1a1a1a">3</text>
<text x="375.1" y="1049.5" font-size="38" text-anchor="middle" fill="#1a1a1a">4</text>
<text x="453.5" y="1049.5" font-size="38" text-anchor="middle" fill="#1a1a1a">5</text>
<text x="655.6" y="1049.5" font-size="38" text-anchor="middle" fill="#1a1a1a">1</text>
<text x="735.7" y="1049.5" font-size="38" text-anchor="middle" fill="#1a1a1a">2</text>
<text x="814.3" y="1049.5" font-size="38" text-anchor="middle" fill="#1a1a1a">3</text>
<text x="892.9" y="1049.5" font-size="38" text-anchor="middle" fill="#1a1a1a">4</text>
<text x="971.5" y="1049.5" font-size="38" text-anchor="middle" fill="#1a1a1a">5</text>
<text transform="translate(74.35 29.84) scale(1.1200 1)" font-size="43.01" style="" fill="#111111" >(</text>
<text transform="translate(89.57 29.59) scale(1.1200 1)" font-size="41.54" style="" fill="#111111" >a</text>
<text transform="translate(108.53 29.84) scale(1.0591 1)" font-size="43.01" style="" fill="#111111" >)</text>
<text transform="translate(590.36 31.35) scale(1.1200 1)" font-size="43.45" style="" fill="#111111" >(</text>
<text transform="translate(606.20 30.79) scale(0.9829 1)" font-size="42.07" style="" fill="#111111" >b</text>
<text transform="translate(625.83 31.35) scale(1.1200 1)" font-size="43.45" style="" fill="#111111" >)</text>
<text transform="translate(77.83 541.84) scale(1.0953 1)" font-size="43.01" style="" fill="#111111" >(</text>
<text transform="translate(92.66 541.30) scale(1.0589 1)" font-size="40.54" style="" fill="#111111" >c</text>
<text transform="translate(110.61 541.84) scale(1.1200 1)" font-size="43.01" style="" fill="#111111" >)</text>
<text transform="translate(591.56 544.95) scale(1.1200 1)" font-size="43.45" style="" fill="#111111" >(</text>
<text transform="translate(606.94 544.39) scale(1.0194 1)" font-size="42.35" style="" fill="#111111" >d</text>
<text transform="translate(627.63 544.95) scale(1.1200 1)" font-size="43.45" style="" fill="#111111" >)</text>
<text transform="translate(223.54 1099.55) scale(1.0216 1)" font-size="45.92" style="" fill="#111111" >t</text>
<text transform="translate(251.10 1105.79) scale(0.8500 1)" font-size="53.89" style="" fill="#111111" >[</text>
<text transform="translate(264.08 1099.22) scale(1.1200 1)" font-size="39.30" style="" fill="#111111" >s</text>
<text transform="translate(276.35 1105.79) scale(0.8500 1)" font-size="53.89" style="" fill="#111111" >]</text>
<text transform="translate(740.54 1099.55) scale(1.0216 1)" font-size="45.92" style="" fill="#111111" >t</text>
<text transform="translate(768.10 1105.79) scale(0.8500 1)" font-size="53.89" style="" fill="#111111" >[</text>
<text transform="translate(781.08 1099.22) scale(1.1200 1)" font-size="39.30" style="" fill="#111111" >s</text>
<text transform="translate(793.35 1105.79) scale(0.8500 1)" font-size="53.89" style="" fill="#111111" >]</text>
<rect x="217.1" y="79" width="204.9" height="175.2" fill="#fff" stroke="#333" stroke-width="1.8"/>
<line x1="226.7" y1="103.7" x2="319" y2="103.7" stroke="#0000ff" stroke-width="4.7" stroke-dasharray="20 16"/>
<text transform="translate(328.14 111.50) scale(0.9690 1)" font-size="34.70" style="" fill="#111111" >40236</text>
<line x1="226.7" y1="145.8" x2="319" y2="145.8" stroke="#ff0000" stroke-width="4.7" stroke-dasharray="19 3.5 10 3.5"/>
<text transform="translate(328.14 153.57) scale(0.9727 1)" font-size="34.70" style="" fill="#111111" >40405</text>
<line x1="226.7" y1="187.8" x2="319" y2="187.8" stroke="#006400" stroke-width="4.7" stroke-dasharray="20 16"/>
<text transform="translate(328.14 195.64) scale(0.9811 1)" font-size="34.70" style="" fill="#111111" >40631</text>
<line x1="226.7" y1="229.9" x2="319" y2="229.9" stroke="#9d5ee6" stroke-width="4.7" stroke-dasharray="6 3"/>
<text transform="translate(328.15 237.71) scale(0.9634 1)" font-size="34.70" style="" fill="#111111" >40844</text>
<rect x="848.2" y="781.6" width="176.0" height="175.60000000000002" fill="#fff"/>
<line x1="883.6" y1="781.6" x2="883.6" y2="957.2" stroke="#e3e3e3" stroke-width="1.3"/>
<line x1="919.0" y1="781.6" x2="919.0" y2="957.2" stroke="#e3e3e3" stroke-width="1.3"/>
<line x1="954.3" y1="781.6" x2="954.3" y2="957.2" stroke="#e3e3e3" stroke-width="1.3"/>
<line x1="989.7" y1="781.6" x2="989.7" y2="957.2" stroke="#e3e3e3" stroke-width="1.3"/>
<line x1="848.2" y1="889.8" x2="1024.2" y2="889.8" stroke="#e3e3e3" stroke-width="1.3"/>
<line x1="848.2" y1="822.3" x2="1024.2" y2="822.3" stroke="#e3e3e3" stroke-width="1.3"/>
<line x1="883.6" y1="957.2" x2="883.6" y2="953.2" stroke="#444444" stroke-width="1.5"/>
<line x1="883.6" y1="781.6" x2="883.6" y2="785.6" stroke="#444444" stroke-width="1.5"/>
<line x1="919.0" y1="957.2" x2="919.0" y2="953.2" stroke="#444444" stroke-width="1.5"/>
<line x1="919.0" y1="781.6" x2="919.0" y2="785.6" stroke="#444444" stroke-width="1.5"/>
<line x1="954.3" y1="957.2" x2="954.3" y2="953.2" stroke="#444444" stroke-width="1.5"/>
<line x1="954.3" y1="781.6" x2="954.3" y2="785.6" stroke="#444444" stroke-width="1.5"/>
<line x1="989.7" y1="957.2" x2="989.7" y2="953.2" stroke="#444444" stroke-width="1.5"/>
<line x1="989.7" y1="781.6" x2="989.7" y2="785.6" stroke="#444444" stroke-width="1.5"/>
<line x1="848.2" y1="889.8" x2="852.2" y2="889.8" stroke="#444444" stroke-width="1.5"/>
<line x1="848.2" y1="822.3" x2="852.2" y2="822.3" stroke="#444444" stroke-width="1.5"/>
<rect x="848.2" y="781.6" width="176.0" height="175.60000000000002" fill="none" stroke="#444444" stroke-width="2"/>
<polyline points="848.3,947.0 850.0,938.5 852.5,933.5" fill="none" stroke="#0000ff" stroke-width="4.7" stroke-linejoin="round" clip-path="url(#clipi)"/>
<polyline points="863.5,916.5 870.7,909.2 879.5,898.8" fill="none" stroke="#0000ff" stroke-width="4.7" stroke-linejoin="round" clip-path="url(#clipi)"/>
<polyline points="892.5,881.5 902.5,869.9 912.5,865.8" fill="none" stroke="#0000ff" stroke-width="4.7" stroke-linejoin="round" clip-path="url(#clipi)"/>
<polyline points="934.0,856.0 943.3,862.3 952.8,869.5" fill="none" stroke="#0000ff" stroke-width="4.7" stroke-linejoin="round" clip-path="url(#clipi)"/>
<polyline points="967.0,889.5 972.5,898.5 979.5,908.5" fill="none" stroke="#0000ff" stroke-width="4.7" stroke-linejoin="round" clip-path="url(#clipi)"/>
<polyline points="846.5,956.0 852.6,939.5 860.1,925.9 867.7,918.3 875.2,914.5 882.8,909.2 888.9,901.7 896.4,894.1 905.5,886.5 911.5,883.5 917.6,880.5 923.6,881.2 928.2,877.5 937.2,876.0 943.3,868.4 953.9,860.8 966.0,850.2 976.6,838.1 988.7,826.0 1000.0,813.0 1012.0,798.0 1023.5,781.0" fill="none" stroke="#ff0000" stroke-width="4.7" stroke-dasharray="19 3.5 10 3.5" stroke-linejoin="round" clip-path="url(#clipi)"/>
<text x="833" y="966.2" font-size="38" text-anchor="end" fill="#1a1a1a">0</text>
<text x="833" y="898.8" font-size="38" text-anchor="end" fill="#1a1a1a">0.05</text>
<text x="833" y="831.3" font-size="38" text-anchor="end" fill="#1a1a1a">0.1</text>
<text x="882.1" y="1001.2" font-size="38" text-anchor="middle" fill="#1a1a1a">0.2</text>
<text x="952.8" y="1001.2" font-size="38" text-anchor="middle" fill="#1a1a1a">0.6</text>
</svg>
</body></html>
